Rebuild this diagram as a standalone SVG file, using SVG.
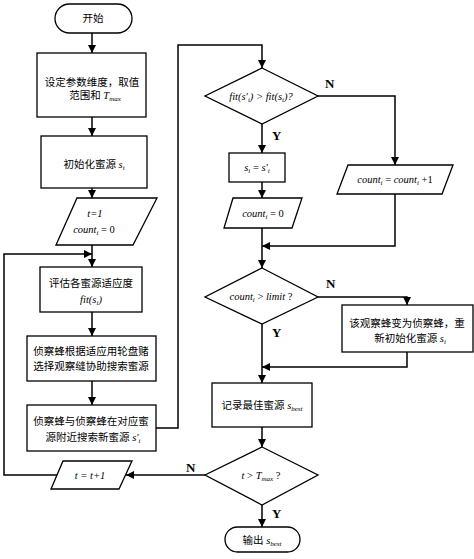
<svg xmlns="http://www.w3.org/2000/svg" width="474" height="559" viewBox="0 0 474 559">
<defs>
<marker id="ah" viewBox="0 0 10 10" refX="10" refY="5" markerUnits="userSpaceOnUse" markerWidth="8" markerHeight="8" orient="auto">
<path d="M0,0 L10,5 L0,10 z" fill="#000"/>
</marker>
<style>
.s{fill:#fff;stroke:#000;stroke-width:1.3}
.c{fill:none;stroke:#000;stroke-width:1.5;marker-end:url(#ah)}
.l{fill:none;stroke:#000;stroke-width:1.5}
.t{font-family:"Liberation Serif","Noto Sans CJK SC",serif;font-size:10.5px;text-anchor:middle;fill:#000}
.m{font-style:italic}
.sb{font-size:7px;font-style:italic}
.y{font-family:"Liberation Serif",serif;font-size:13px;font-weight:bold;fill:#000}
</style>
</defs>
<rect width="474" height="559" fill="#fff"/>
<g id="connectors">
<path class="c" d="M92,33 V53"/>
<path class="c" d="M92,117 V136"/>
<path class="c" d="M92,188 V198"/>
<path class="c" d="M92,245 V267"/>
<path class="c" d="M57,475 H4 V254 H92"/>
<path class="c" d="M92,312 V336"/>
<path class="c" d="M92,381 V405"/>
<path class="c" d="M156,428 H178 V45 H262 V68"/>
<path class="c" d="M262,124 V153"/>
<path class="c" d="M262,182 V198"/>
<path class="c" d="M318,96 H395 V165"/>
<path class="c" d="M262,228 V268"/>
<path class="c" d="M395,194 V246 H262"/>
<path class="c" d="M318,297 H407 V305"/>
<path class="c" d="M262,324 V383"/>
<path class="c" d="M407,352 V367 H262"/>
<path class="c" d="M262,427 V447"/>
<path class="c" d="M205,475 H126"/>
<path class="c" d="M262,505 V527"/>
<text class="y" x="325" y="88">N</text>
<text class="y" x="272" y="140">Y</text>
<text class="y" x="326" y="288">N</text>
<text class="y" x="272" y="337">Y</text>
<text class="y" x="186" y="472">N</text>
<text class="y" x="272" y="518">Y</text>
</g>
<g id="start">
<rect class="s" x="55" y="4" width="77" height="29" rx="14.5"/>
<text class="t" x="93" y="22">开始</text>
</g>
<g id="setParams">
<rect class="s" x="37" y="53" width="109" height="64"/>
<text class="t" x="92" y="86">设定参数维度，取值</text>
<text class="t" x="95" y="99">范围和 <tspan class="m">T</tspan><tspan class="sb" dy="2">max</tspan></text>
</g>
<g id="initSource">
<rect class="s" x="41" y="136" width="106" height="52"/>
<text class="t" x="94" y="168">初始化蜜源 <tspan class="m">s</tspan><tspan class="sb" dy="2">i</tspan></text>
</g>
<g id="initCount">
<polygon class="s" points="77,198 157,198 133,245 56,245"/>
<text class="t m" x="95" y="217">t=1</text>
<text class="t m" x="94" y="233">count<tspan class="sb" dy="2">i</tspan><tspan dy="-2" font-style="normal"> = 0</tspan></text>
</g>
<g id="evalFitness">
<rect class="s" x="40" y="267" width="102" height="45"/>
<text class="t" x="91" y="287">评估各蜜源适应度</text>
<text class="t m" x="91" y="303">fit(s<tspan class="sb" dy="2">i</tspan><tspan dy="-2">)</tspan></text>
</g>
<g id="roulette">
<rect class="s" x="27" y="336" width="129" height="45"/>
<text class="t" x="91" y="355">侦察蜂根据适应用轮盘赌</text>
<text class="t" x="91" y="370">选择观察缝协助搜索蜜源</text>
</g>
<g id="searchNew">
<rect class="s" x="27" y="405" width="129" height="46"/>
<text class="t" x="91" y="425">侦察蜂与侦察蜂在对应蜜</text>
<text class="t" x="93" y="441">源附近搜索新蜜源 <tspan class="m">s′</tspan><tspan class="sb" dy="2">i</tspan></text>
</g>
<g id="incT">
<polygon class="s" points="63,461 132,461 119,489 51,489"/>
<text class="t m" x="90" y="479">t = t+1</text>
</g>
<g id="compareFit">
<polygon class="s" points="262,68 318,96 262,124 205,96"/>
<text class="t m" x="261" y="100" font-size="10">fit(s′<tspan class="sb" dy="2">i</tspan><tspan dy="-2">) &gt; fit(s</tspan><tspan class="sb" dy="2">i</tspan><tspan dy="-2">)?</tspan></text>
</g>
<g id="replace">
<rect class="s" x="229" y="153" width="56" height="29"/>
<text class="t m" x="257" y="171">s<tspan class="sb" dy="2">i</tspan><tspan dy="-2" font-style="normal"> = </tspan>s′<tspan class="sb" dy="2">i</tspan></text>
</g>
<g id="resetCount">
<polygon class="s" points="233,198 302,198 292,228 224,228"/>
<text class="t m" x="263" y="217">count<tspan class="sb" dy="2">i</tspan><tspan dy="-2" font-style="normal"> = 0</tspan></text>
</g>
<g id="incCount">
<polygon class="s" points="348,165 453,165 442,194 337,194"/>
<text class="t m" x="395" y="183">count<tspan class="sb" dy="2">i</tspan><tspan dy="-2" font-style="normal"> = </tspan>count<tspan class="sb" dy="2">i</tspan><tspan dy="-2" font-style="normal"> +1</tspan></text>
</g>
<g id="checkLimit">
<polygon class="s" points="262,268 318,297 262,324 205,297"/>
<text class="t m" x="261" y="300">count<tspan class="sb" dy="2">i</tspan><tspan dy="-2" font-style="normal"> &gt; </tspan>limit<tspan font-style="normal"> ?</tspan></text>
</g>
<g id="scoutReinit">
<rect class="s" x="342" y="305" width="131" height="47"/>
<text class="t" x="407" y="327">该观察蜂变为侦察蜂，重</text>
<text class="t" x="410" y="342">新初始化蜜源 <tspan class="m">s</tspan><tspan class="sb" dy="2">i</tspan></text>
</g>
<g id="recordBest">
<rect class="s" x="212" y="383" width="100" height="44"/>
<text class="t" x="262" y="409">记录最佳蜜源 <tspan class="m">s</tspan><tspan class="sb" dy="2">best</tspan></text>
</g>
<g id="checkT">
<polygon class="s" points="262,447 318,475 262,505 205,475"/>
<text class="t m" x="261" y="479">t<tspan font-style="normal"> &gt; </tspan>T<tspan class="sb" dy="2">max</tspan><tspan dy="-2" font-style="normal"> ?</tspan></text>
</g>
<g id="end">
<rect class="s" x="225" y="527" width="75" height="25" rx="12.5"/>
<text class="t" x="262" y="544">输出 <tspan class="m">s</tspan><tspan class="sb" dy="2">best</tspan></text>
</g>
</svg>
